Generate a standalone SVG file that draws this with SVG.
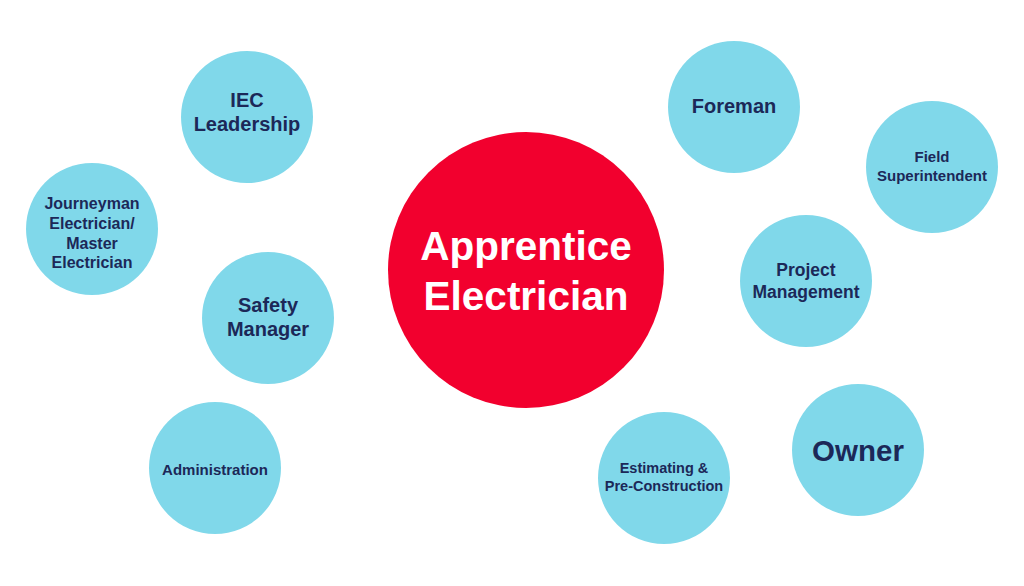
<svg xmlns="http://www.w3.org/2000/svg" width="1024" height="586" viewBox="0 0 1024 586">
<style>
.bub{fill:#80D8EA}
.core{fill:#F2002E}
text{font-family:"Liberation Sans",Arial,Helvetica,sans-serif;font-weight:bold;text-anchor:middle}
.lbl{fill:#1C2858}
.main{fill:#FFFFFF;font-size:40.5px}
</style>
<rect width="1024" height="586" fill="#FFFFFF"/>
<g id="apprentice-electrician">
<circle class="core" cx="526" cy="270" r="138"/>
<text class="main" x="526" y="260">Apprentice</text>
<text class="main" x="526" y="310">Electrician</text>
</g>
<g id="iec-leadership">
<circle class="bub" cx="247" cy="117" r="66"/>
<text class="lbl" x="247" y="107" font-size="20">IEC</text>
<text class="lbl" x="247" y="131" font-size="20">Leadership</text>
</g>
<g id="journeyman">
<circle class="bub" cx="92" cy="229" r="66"/>
<text class="lbl" x="92" y="209" font-size="16">Journeyman</text>
<text class="lbl" x="92" y="229" font-size="16">Electrician/</text>
<text class="lbl" x="92" y="249" font-size="16">Master</text>
<text class="lbl" x="92" y="268" font-size="16">Electrician</text>
</g>
<g id="safety-manager">
<circle class="bub" cx="268" cy="318" r="66"/>
<text class="lbl" x="268" y="312" font-size="20">Safety</text>
<text class="lbl" x="268" y="336" font-size="20">Manager</text>
</g>
<g id="administration">
<circle class="bub" cx="215" cy="468" r="66"/>
<text class="lbl" x="215" y="475" font-size="15">Administration</text>
</g>
<g id="foreman">
<circle class="bub" cx="734" cy="107" r="66"/>
<text class="lbl" x="734" y="113" font-size="20">Foreman</text>
</g>
<g id="field-superintendent">
<circle class="bub" cx="932" cy="167" r="66"/>
<text class="lbl" x="932" y="162" font-size="15">Field</text>
<text class="lbl" x="932" y="181" font-size="15">Superintendent</text>
</g>
<g id="project-management">
<circle class="bub" cx="806" cy="281" r="66"/>
<text class="lbl" x="806" y="276" font-size="17.5">Project</text>
<text class="lbl" x="806" y="298" font-size="17.5">Management</text>
</g>
<g id="estimating">
<circle class="bub" cx="664" cy="478" r="66"/>
<text class="lbl" x="664" y="473" font-size="14.5">Estimating &amp;</text>
<text class="lbl" x="664" y="491" font-size="14.5">Pre-Construction</text>
</g>
<g id="owner">
<circle class="bub" cx="858" cy="450" r="66"/>
<text class="lbl" x="858" y="461" font-size="29.5">Owner</text>
</g>
</svg>
